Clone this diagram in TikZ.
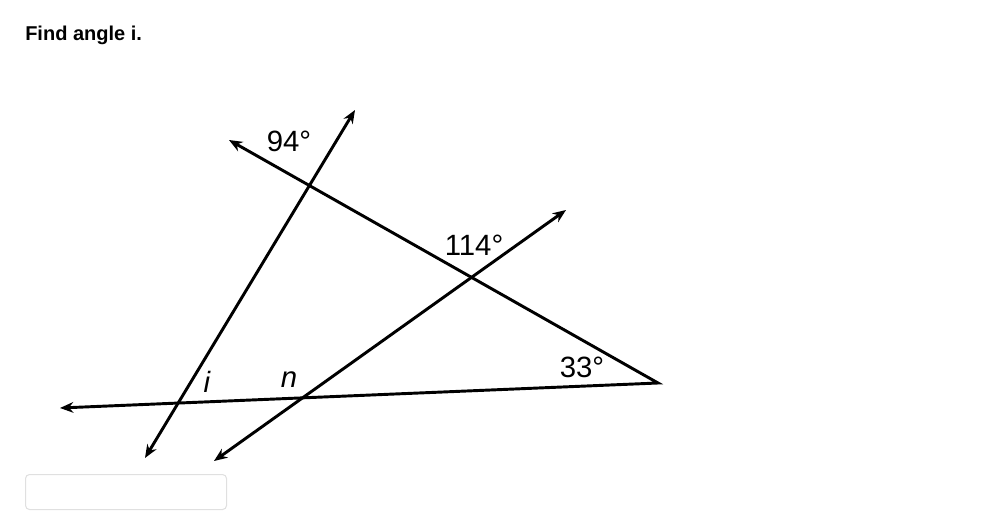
\documentclass[tikz,border=0pt]{standalone}
\usepackage{fontspec}
\setmainfont{Liberation Sans}
\usepackage{tikz}
\usetikzlibrary{arrows.meta,calc}

\tikzset{
  ray/.style={line width=2.2pt, line join=miter, {Stealth[length=10pt,width=8pt]}-{Stealth[length=10pt,width=8pt]}},
  anglelabel/.style={inner sep=0pt, font=\fontsize{22}{26}\selectfont},
}

\begin{document}
\begin{tikzpicture}[x=0.75pt,y=0.75pt,yscale=-1,xscale=1]
\useasboundingbox (0,0) rectangle (1001,521);

% Text Node
\node[anchor=west, inner sep=0pt, font=\fontsize{15}{18}\selectfont\bfseries] (title) at (25,35) {Find angle i.};

% end points
\coordinate (apex) at (658,383);
\coordinate (aLow) at (145,458);
\coordinate (aHigh) at (355,110);
\coordinate (bLeft) at (229,140);
\coordinate (cLow) at (214,461);
\coordinate (cHigh) at (566,210);
\coordinate (dLeft) at (60,408);

%Straight Lines
\draw[ray] (aLow) -- (aHigh);
\draw[ray] (cLow) -- (cHigh);
\draw[ray] (bLeft) -- (apex) -- (dLeft);

% Text Node
\node[anglelabel] (top) at (289,141) {94°};
% Text Node
\node[anglelabel] (mid) at (474,245) {114°};
% Text Node
\node[anglelabel] (tip) at (582,367) {33°};
% Text Node
\node[anglelabel, font=\fontsize{22}{26}\selectfont\itshape] (angI) at (207,382) {i};
% Text Node
\node[anglelabel, font=\fontsize{22}{26}\selectfont\itshape] (angN) at (289,380) {n};

% answer box
\node[draw=black!12, rounded corners=3pt, line width=0.8pt, minimum width=150.75pt, minimum height=26.25pt, anchor=north west, inner sep=0pt] (answer) at (25,474) {};

\end{tikzpicture}
\end{document}
